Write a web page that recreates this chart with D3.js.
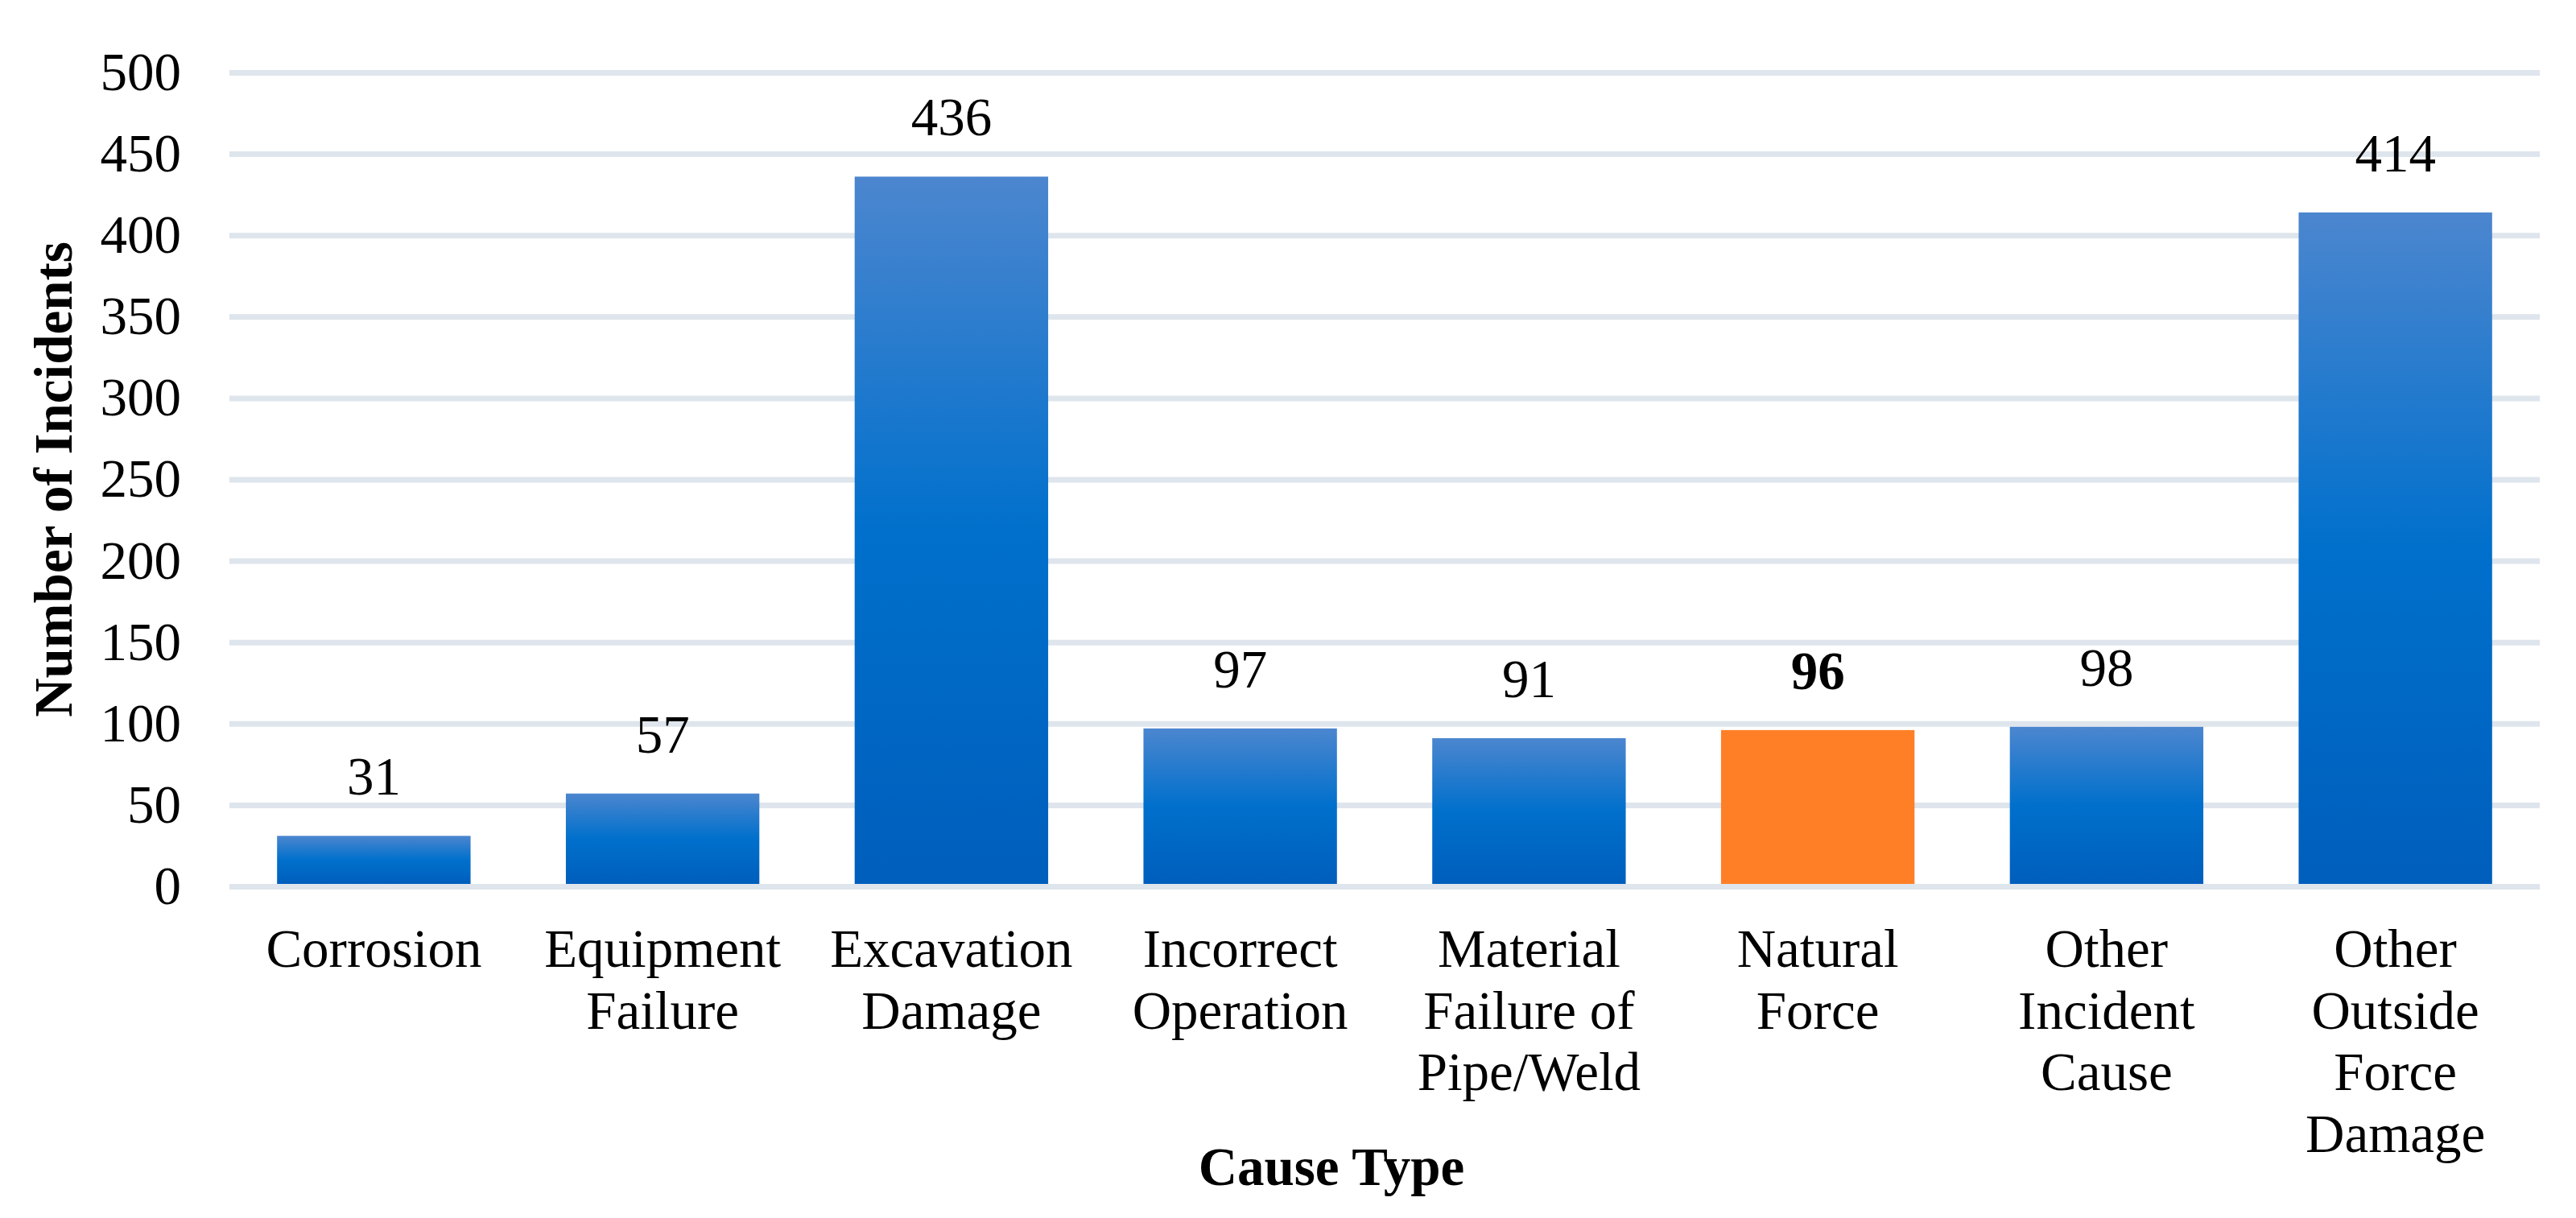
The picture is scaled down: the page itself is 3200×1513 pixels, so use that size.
<!DOCTYPE html>
<html>
<head>
<meta charset="utf-8">
<script src="https://cdn.jsdelivr.net/npm/d3@7"></script>
<style>
  body { margin: 0; background: #fff; }
  text { font-family: "Times New Roman", "Liberation Serif", serif; fill: #000; }
</style>
</head>
<body>
<svg id="chart" width="3200" height="1513"></svg>
<script>
const causes = ['Corrosion', 'Equipment Failure', 'Excavation Damage', 'Incorrect Operation',
  'Material Failure of Pipe/Weld', 'Natural Force', 'Other Incident Cause', 'Other Outside Force Damage'];
const causeLines = [['Corrosion'], ['Equipment', 'Failure'], ['Excavation', 'Damage'], ['Incorrect', 'Operation'],
  ['Material', 'Failure of', 'Pipe/Weld'], ['Natural', 'Force'], ['Other', 'Incident', 'Cause'],
  ['Other', 'Outside', 'Force', 'Damage']];
const incidents = [31, 57, 436, 97, 91, 96, 98, 414];
const highlighted = ['Natural Force'];
const yTicks = [0, 50, 100, 150, 200, 250, 300, 350, 400, 450, 500];

const svg = d3.select('#chart');
const width = +svg.attr('width');
const height = +svg.attr('height');
const margin = { top: 90, right: 45, bottom: 412, left: 285 };
const fontSize = 67;

const x = d3.scaleBand().domain(causes).range([margin.left, width - margin.right])
  .paddingInner(0.33).paddingOuter(0.165);
const y = d3.scaleLinear().domain([0, 500]).range([height - margin.bottom, margin.top]);

const defs = svg.append('defs');
const grad = defs.append('linearGradient').attr('id', 'barGrad')
  .attr('x1', 0).attr('y1', 0).attr('x2', 0).attr('y2', 1);
grad.append('stop').attr('offset', '0%').attr('stop-color', '#4c86cf');
grad.append('stop').attr('offset', '50%').attr('stop-color', '#0070cc');
grad.append('stop').attr('offset', '100%').attr('stop-color', '#005ebc');

// gridlines
const yAxis = d3.axisLeft(y).tickValues(yTicks)
  .tickSize(-(width - margin.left - margin.right)).tickPadding(60);
const gy = svg.append('g').attr('transform', `translate(${margin.left},0)`).call(yAxis);
gy.select('.domain').remove();
gy.selectAll('.tick line').attr('stroke', '#dee5ec').attr('stroke-width', 7);
gy.selectAll('.tick text').style('font-size', fontSize + 'px').attr('fill', '#000');

// bars
svg.append('g').selectAll('rect')
  .data(causes).enter()
  .append('rect')
  .attr('x', d => x(d))
  .attr('width', x.bandwidth())
  .attr('y', (d, i) => y(incidents[i]))
  .attr('height', (d, i) => y(0) - 3 - y(incidents[i]))
  .attr('fill', d => highlighted.includes(d) ? '#ff7f27' : 'url(#barGrad)');

// value labels
svg.append('g').selectAll('text')
  .data(causes).enter()
  .append('text')
  .attr('x', d => x(d) + x.bandwidth() / 2)
  .attr('y', (d, i) => y(incidents[i]) - 51)
  .attr('text-anchor', 'middle')
  .style('font-size', fontSize + 'px')
  .style('font-weight', d => highlighted.includes(d) ? 'bold' : 'normal')
  .text((d, i) => incidents[i]);

// category labels
const xAxis = d3.axisBottom(x).tickSize(0).tickFormat('');
const gx = svg.append('g').attr('transform', `translate(0,${y(0)})`).call(xAxis);
gx.select('.domain').remove();
gx.selectAll('.tick').each(function (d, i) {
  const t = d3.select(this).append('text')
    .attr('text-anchor', 'middle')
    .attr('fill', '#000')
    .style('font-size', fontSize + 'px');
  causeLines[i].forEach((line, j) => {
    t.append('tspan').attr('x', 0).attr('y', 100 + j * 76.5).text(line);
  });
});

// axis titles
svg.append('text')
  .attr('transform', `translate(89,${(y(0) + y(500)) / 2}) rotate(-90)`)
  .attr('text-anchor', 'middle')
  .style('font-size', fontSize + 'px')
  .style('font-weight', 'bold')
  .text('Number of Incidents');

svg.append('text')
  .attr('x', 1654)
  .attr('y', 1472)
  .attr('text-anchor', 'middle')
  .style('font-size', fontSize + 'px')
  .style('font-weight', 'bold')
  .text('Cause Type');
</script>
</body>
</html>
